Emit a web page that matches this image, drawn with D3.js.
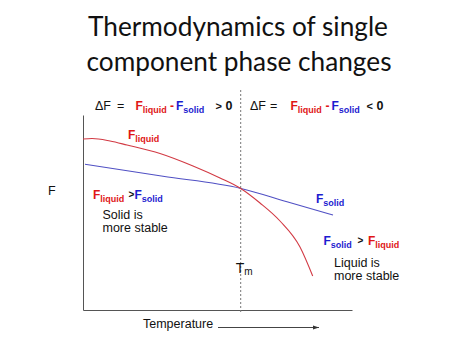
<!DOCTYPE html>
<html>
<head>
<meta charset="utf-8">
<script src="https://cdn.jsdelivr.net/npm/d3@7"></script>
<style>
  html, body { margin: 0; padding: 0; background: #fff; }
  svg { display: block; }
</style>
</head>
<body>
<svg id="chart" width="474" height="355"></svg>
<script>
// ---- data (arbitrary units: temperature along x, free energy F along y) ----
const titleLines = ["Thermodynamics of single", "component phase changes"];
const liquidT = [0, 9, 27, 44, 77, 110, 137, 157.7, 177, 197, 217, 229.7];
const liquidF = [171, 171.5, 169, 165, 156.5, 144, 132, 121.5, 107, 89, 63, 34];
const solidT  = [2, 80, 158, 204, 250];
const solidF  = [145.7, 133.7, 121.5, 108.3, 95];
const meltT = 157.7;
const xLabel = "Temperature";
const yLabel = "F";

const RED = "#e01616", BLUE = "#1c1cd0";
const svg = d3.select("#chart");

const x = d3.scaleLinear().domain([0, 269]).range([83, 352]);
const y = d3.scaleLinear().domain([0, 195]).range([310, 115]);

// title
const title = svg.append("g").attr("font-family", "Lato, 'Open Sans', sans-serif").attr("fill", "#111");
const t1 = title.append("text").attr("x", 238).attr("y", 36).attr("text-anchor", "middle")
  .attr("font-size", 28).text(titleLines[0]);
const w = t1.node().getComputedTextLength();
const fs = 28 * 300 / w;
t1.attr("font-size", fs);
title.append("text").attr("x", 239).attr("y", 70.5).attr("text-anchor", "middle")
  .attr("font-size", fs).text(titleLines[1]);

// axes
svg.append("g").attr("transform", `translate(0,${y(0)})`)
  .call(d3.axisBottom(x).ticks(0).tickSizeOuter(0))
  .call(g => g.select(".domain").attr("stroke", "#555"));
svg.append("g").attr("transform", `translate(${x(0)},0)`)
  .call(d3.axisLeft(y).ticks(0).tickSizeOuter(0))
  .call(g => g.select(".domain").attr("stroke", "#555"));

// melting temperature dashed line
svg.append("line").attr("x1", x(meltT)).attr("x2", x(meltT)).attr("y1", 90).attr("y2", 312)
  .attr("stroke", "#777").attr("stroke-width", 1).attr("stroke-dasharray", "2,2");

// curves
const line = d3.line().x(d => x(d[0])).y(d => y(d[1])).curve(d3.curveMonotoneX);
svg.append("path").datum(solidT.map((t, i) => [t, solidF[i]]))
  .attr("d", line).attr("fill", "none").attr("stroke", "#5050c4").attr("stroke-width", 1.1);
svg.append("path").datum(liquidT.map((t, i) => [t, liquidF[i]]))
  .attr("d", line).attr("fill", "none").attr("stroke", "#d23a44").attr("stroke-width", 1.1);

// text helpers
const font = "'Liberation Sans', Arial, sans-serif";
function fsub(px, py, main, sub, color, size = 12, subSize = 9) {
  const t = svg.append("text").attr("x", px).attr("y", py).attr("font-family", font)
    .attr("font-weight", "bold").attr("fill", color).attr("font-size", size);
  t.append("tspan").text(main);
  t.append("tspan").attr("dy", 3).attr("font-size", subSize).text(sub);
  return t;
}
function plain(px, py, str, size = 12, weight = "normal", color = "#111") {
  return svg.append("text").attr("x", px).attr("y", py).attr("font-family", font)
    .attr("font-size", size).attr("font-weight", weight).attr("fill", color).text(str);
}

// header equations
plain(95, 110, "\u0394F", 12.5);
plain(117, 110, "=", 12.5);
fsub(135.5, 110, "F", "liquid", RED);
plain(170, 110, "-", 12, "bold", RED);
fsub(176, 110, "F", "solid", BLUE);
plain(215.5, 110, ">", 11, "bold");
plain(225.5, 110, "0", 12.5, "bold");

plain(250, 110, "\u0394F", 12.5);
plain(270, 110, "=", 12.5);
fsub(290.5, 110, "F", "liquid", RED);
plain(325.5, 110, "-", 12, "bold", RED);
fsub(331.5, 110, "F", "solid", BLUE);
plain(366.5, 110, "<", 11, "bold");
plain(376.5, 110, "0", 12.5, "bold");

// curve labels
fsub(128, 139, "F", "liquid", RED);
fsub(316, 203, "F", "solid", BLUE);

// left region
fsub(93, 199, "F", "liquid", RED);
plain(128.5, 198, ">", 10, "bold");
fsub(134.5, 199, "F", "solid", BLUE);
plain(102.5, 219, "Solid is", 12.5);
plain(102.5, 232, "more stable", 12.5);

// right region
fsub(323.5, 245, "F", "solid", BLUE);
plain(357.5, 244, ">", 10, "bold");
fsub(368, 245, "F", "liquid", RED);
plain(334, 266.5, "Liquid is", 12.5);
plain(334, 279.5, "more stable", 12.5);

// axis labels
plain(48, 195, yLabel, 12.5);
const tm = svg.append("text").attr("x", x(meltT) - 5).attr("y", 273).attr("font-family", font)
  .attr("font-size", 14).attr("fill", "#111");
tm.append("tspan").text("T");
tm.append("tspan").attr("dy", 2).attr("font-size", 10).text("m");

plain(143, 328, xLabel, 12.5);
svg.append("defs").append("marker").attr("id", "arr").attr("viewBox", "0 0 10 10")
  .attr("refX", 10).attr("refY", 5).attr("markerWidth", 6).attr("markerHeight", 6)
  .attr("orient", "auto").append("path").attr("d", "M0,1.5 L10,5 L0,8.5 z").attr("fill", "#333");
svg.append("line").attr("x1", 218).attr("x2", 319).attr("y1", 327.5).attr("y2", 327.5)
  .attr("stroke", "#444").attr("stroke-width", 1).attr("marker-end", "url(#arr)");
</script>
</body>
</html>
